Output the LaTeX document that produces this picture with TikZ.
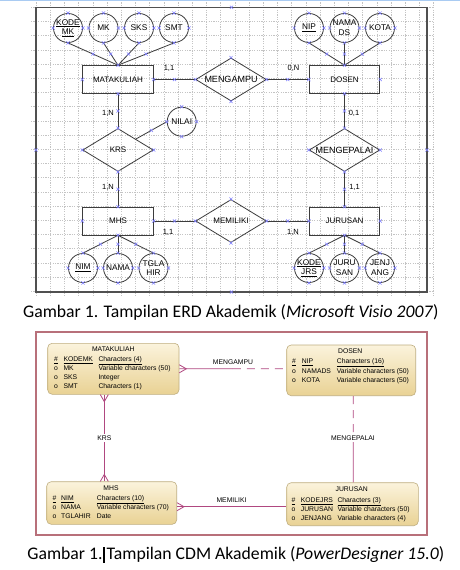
\documentclass[tikz,border=0pt]{standalone}
\usepackage{fontspec}
\setmainfont{Liberation Sans}
\newfontfamily\capfont{Carlito}
\usetikzlibrary{shapes.geometric,calc}
\definecolor{erdline}{HTML}{3C3C3C}
\definecolor{gridc}{HTML}{C4C4C4}
\definecolor{cpblue}{HTML}{7F7FFF}
\definecolor{cdmframe}{HTML}{B8707A}
\definecolor{cdmline}{HTML}{B04880}
\definecolor{boxtop}{HTML}{FBF3DC}
\definecolor{boxbot}{HTML}{E9D294}
\definecolor{boxdraw}{HTML}{BFAE80}
\definecolor{selblue}{HTML}{A9CBF2}
\newcommand\cpmark[1]{\draw[cpm] #1 +(-1.6,-1.6) -- +(1.6,1.6) #1 +(-1.6,1.6) -- +(1.6,-1.6);}
\newcommand\crowh[2]{\draw[cdmrel] ($(#1)+(0,-4)$) -- ($(#1)+(#2*7,0)$) -- ($(#1)+(0,4)$);}
\newcommand\crowv[2]{\draw[cdmrel] ($(#1)+(-4,0)$) -- ($(#1)+(0,#2*7)$) -- ($(#1)+(4,0)$);}
\newcommand\crow[8]{%
  \node[cell] (#1m) at (#3,#2) {#6};
  \node[cell] (#1n) at (#4,#2) {#7};
  \node[cell] (#1t) at (#5,#2) {#8};}
\newcommand\txtcursor{\hspace{0.6pt}\rule[-3.2pt]{1.4pt}{15.5pt}\hspace{2.2pt}}
\begin{document}
\begin{tikzpicture}[x=1pt,y=-1pt,
  gridline/.style={draw=gridc, line width=0.45pt, dash pattern=on 1.2pt off 1.2pt},
  erd/.style={draw=erdline, line width=0.8pt},
  ent/.style={rectangle, draw=erdline, line width=0.8pt, minimum width=70.6pt, minimum height=27.8pt, inner sep=0pt, font=\fontsize{8}{9.6}\selectfont},
  rel/.style={diamond, draw=erdline, line width=0.8pt, minimum width=70.6pt, minimum height=43pt, inner sep=0pt, shape aspect=1.65, font=\fontsize{8}{9.6}\selectfont},
  attr/.style={circle, draw=erdline, line width=0.8pt, minimum size=29pt, inner sep=0pt},
  attrtxt/.style={font=\fontsize{8.3}{9.7}\selectfont, align=center, inner sep=0pt},
  card/.style={font=\fontsize{7.5}{9}\selectfont, inner sep=0pt},
  cpm/.style={draw=cpblue, line width=0.5pt},
  cdm/.style={rectangle, rounded corners=4.5pt, draw=boxdraw, line width=0.6pt, top color=boxtop, bottom color=boxbot, inner sep=0pt},
  ttl/.style={font=\fontsize{6.8}{8}\selectfont, inner sep=0pt},
  cell/.style={font=\fontsize{6.8}{8}\selectfont, inner sep=0pt, anchor=west, text height=5pt, text depth=1.4pt},
  cdmrel/.style={draw=cdmline, line width=0.8pt},
  clabel/.style={font=\fontsize{6.8}{8}\selectfont, inner sep=1.2pt},
  caption/.style={font=\capfont\fontsize{17.7}{20}\selectfont, inner sep=0pt, anchor=base}
]
\useasboundingbox (0,0) rectangle (460,570);
\fill[white] (0,0) rectangle (460,570);
% ---------- top panel: grid and frame ----------
\begin{scope}
  \clip (31,1.5) rectangle (434,297);
  \foreach \i in {0,...,28} \draw[gridline] ({36+14.2*\i},0) -- ({36+14.2*\i},297);
  \foreach \j in {0,...,20} \draw[gridline] (31,{7.3+14.2*\j}) -- (434,{7.3+14.2*\j});
\end{scope}
\draw[selblue, line width=1.2pt] (0,0.6) -- (460,0.6);
\draw[draw=erdline!90, line width=1.1pt] (36,7.3) rectangle (427,292);
% ---------- entities ----------
\node[ent] (matakuliah) at (118,79.5) {MATAKULIAH};
\node[ent] (dosen) at (344.5,79.5) {DOSEN};
\node[ent] (mhs) at (118,221) {MHS};
\node[ent] (jurusan) at (344.5,221) {JURUSAN};
% ---------- relationships ----------
\node[rel, font=\fontsize{9}{10}\selectfont] (mengampu) at (231,79.5) {MENGAMPU};
\node[rel] (krs) at (118,150) {KRS};
\node[rel, font=\fontsize{9}{10}\selectfont] (mengepalai) at (344.5,150) {MENGEPALAI};
\node[rel] (memiliki) at (231,221) {MEMILIKI};
% ---------- attributes ----------
\node[attr, label={[attrtxt,name=kodemkt]center:{\underline{KODE}\\\underline{MK}}}] (kodemk) at (68,28) {};
\node[attr, label={[attrtxt,name=mkt]center:MK}] (mk) at (103.5,28) {};
\node[attr, label={[attrtxt,name=skst]center:SKS}] (sks) at (139,28) {};
\node[attr, label={[attrtxt,name=smtt]center:SMT}] (smt) at (174,28) {};
\node[attr, label={[attrtxt,name=nipt]center:\underline{NIP}}] (nip) at (309,28) {};
\node[attr, label={[attrtxt,name=namadst]center:{NAMA\\DS}}] (namads) at (344.5,28) {};
\node[attr, label={[attrtxt,name=kotat]center:KOTA}] (kota) at (380,28) {};
\node[attr, label={[attrtxt,name=nilait]center:NILAI}] (nilai) at (181.7,121.7) {};
\node[attr, label={[attrtxt,name=nimt]center:\underline{NIM}}] (nim) at (83,268) {};
\node[attr, label={[attrtxt,name=namat]center:NAMA}] (nama) at (118,268) {};
\node[attr, label={[attrtxt,name=tglahirt]center:{TGLA\\HIR}}] (tglahir) at (153.5,268) {};
\node[attr, label={[attrtxt,name=kodejrst]center:{\underline{KODE}\\\underline{JRS}}}] (kodejrs) at (309,268) {};
\node[attr, label={[attrtxt,name=jurusanat]center:{JURU\\SAN}}] (jurusana) at (344.5,268) {};
\node[attr, label={[attrtxt,name=jenjangt]center:{JENJ\\ANG}}] (jenjang) at (380,268) {};
% ---------- connectors ----------
\foreach \a in {kodemk,mk,sks,smt} \draw[erd] (\a.south) -- (matakuliah.north);
\foreach \a in {nip,namads,kota} \draw[erd] (\a.south) -- (dosen.north);
\foreach \a in {nim,nama,tglahir} \draw[erd] (mhs.south) -- (\a.north);
\foreach \a in {kodejrs,jurusana,jenjang} \draw[erd] (jurusan.south) -- (\a.north);
\draw[erd] (matakuliah.east) -- (mengampu.west);
\draw[erd] (mengampu.east) -- (dosen.west);
\draw[erd] (matakuliah.south) -- (krs.north);
\draw[erd] (krs.south) -- (mhs.north);
\draw[erd] (krs.north east) -- (nilai.west);
\draw[erd] (dosen.south) -- (mengepalai.north);
\draw[erd] (mengepalai.south) -- (jurusan.north);
\draw[erd] (mhs.east) -- (memiliki.west);
\draw[erd] (memiliki.east) -- (jurusan.west);
% ---------- cardinalities ----------
\node[card] (c1) at (169,68) {1,1};
\node[card] (c2) at (293.5,68) {0,N};
\node[card] (c3) at (108,113) {1,N};
\node[card] (c4) at (354,113) {0,1};
\node[card] (c5) at (108,187) {1,N};
\node[card] (c6) at (354.5,187) {1,1};
\node[card] (c7) at (168,232) {1,1};
\node[card] (c8) at (293,232) {1,N};
% ---------- connection point marks ----------
\foreach \n in {kodemk,mk,sks,smt,nip,namads,kota,nilai,nim,nama,tglahir,kodejrs,jurusana,jenjang,mengampu,krs,mengepalai,memiliki,matakuliah,dosen,mhs,jurusan}
  \foreach \p in {north,south,east,west} {\cpmark{(\n.\p)}}
\foreach \n/\e in {kodemk/matakuliah,mk/matakuliah,sks/matakuliah,smt/matakuliah,nip/dosen,namads/dosen,kota/dosen}
  {\cpmark{($(\n.south)!0.5!(\e.north)$)}}
\foreach \n/\e in {nim/mhs,nama/mhs,tglahir/mhs,kodejrs/jurusan,jurusana/jurusan,jenjang/jurusan}
  {\cpmark{($(\n.north)!0.5!(\e.south)$)}}
\cpmark{($(matakuliah.east)!0.5!(mengampu.west)$)}
\cpmark{($(mengampu.east)!0.5!(dosen.west)$)}
\cpmark{($(matakuliah.south)!0.5!(krs.north)$)}
\cpmark{($(krs.south)!0.5!(mhs.north)$)}
\cpmark{($(krs.north east)!0.5!(nilai.west)$)}
\cpmark{($(dosen.south)!0.5!(mengepalai.north)$)}
\cpmark{($(mengepalai.south)!0.5!(jurusan.north)$)}
\cpmark{($(mhs.east)!0.5!(memiliki.west)$)}
\cpmark{($(memiliki.east)!0.5!(jurusan.west)$)}
\cpmark{(36,150)} \cpmark{(427,150)} \cpmark{(231.5,7.3)} \cpmark{(231.5,292)}
% ---------- caption 1 ----------
\node[caption] (cap1) at (230.8,317.7) {Gambar 1. Tampilan ERD Akademik (\textit{Microsoft Visio 2007})};
% ---------- bottom panel ----------
\draw[draw=cdmframe, line width=1.1pt] (36,332) rectangle (427,535);
\node[cdm, minimum width=131.3pt, minimum height=51pt] (cmk) at (113.35,368.8) {};
\node[cdm, minimum width=129pt, minimum height=50.7pt] (cdos) at (351.2,370.35) {};
\node[cdm, minimum width=130pt, minimum height=42.6pt] (cmhs) at (111.7,503) {};
\node[cdm, minimum width=131.6pt, minimum height=43pt] (cjur) at (352.5,504.2) {};
\node[ttl] (cmkT) at (113.3,349) {MATAKULIAH};
\node[ttl] (cdosT) at (350.3,351) {DOSEN};
\node[ttl] (cmhsT) at (111,487.7) {MHS};
\node[ttl] (cjurT) at (351.7,489) {JURUSAN};
\crow{mka}{360}{54}{63.3}{98.3}{\underline{\#}}{\underline{KODEMK}}{\underline{Characters (4)}}
\crow{mkb}{369}{54}{63.3}{98.3}{o}{MK}{Variable characters (50)}
\crow{mkc}{378}{54}{63.3}{98.3}{o}{SKS}{Integer}
\crow{mkd}{387}{54}{63.3}{98.3}{o}{SMT}{Characters (1)}
\crow{dsa}{362}{292}{301.7}{336.7}{\underline{\#}}{\underline{NIP}}{\underline{Characters (16)}}
\crow{dsb}{371.5}{292}{301.7}{336.7}{o}{NAMADS}{Variable characters (50)}
\crow{dsc}{381}{292}{301.7}{336.7}{o}{KOTA}{Variable characters (50)}
\crow{mha}{499}{52.5}{61}{96.7}{\underline{\#}}{\underline{NIM}}{\underline{Characters (10)}}
\crow{mhb}{507.7}{52.5}{61}{96.7}{o}{NAMA}{Variable characters (70)}
\crow{mhc}{516.7}{52.5}{61}{96.7}{o}{TGLAHIR}{Date}
\crow{jra}{500.7}{291.5}{300.7}{337.3}{\underline{\#}}{\underline{KODEJRS}}{\underline{Characters (3)}}
\crow{jrb}{509.7}{291.5}{300.7}{337.3}{o}{JURUSAN}{Variable characters (50)}
\crow{jrc}{518.7}{291.5}{300.7}{337.3}{o}{JENJANG}{Variable characters (4)}
% relationships
\coordinate (mgA) at (cmk.east);
\coordinate (mgB) at (cmk.east -| cdos.west);
\coordinate (mgM) at ($(mgA)!0.5!(mgB)$);
\draw[cdmrel] (mgA) -- (mgM);
\draw[cdmrel, dash pattern=on 8pt off 6pt] (mgM) -- (mgB);
\crowh{mgA}{1}
\coordinate (krsA) at (104.3,0 |- cmk.south);
\coordinate (krsB) at (104.3,0 |- cmhs.north);
\draw[cdmrel] (krsA) -- (krsB);
\crowv{krsA}{1}
\crowv{krsB}{-1}
\coordinate (mpA) at (353.3,0 |- cdos.south);
\coordinate (mpB) at (353.3,0 |- cjur.north);
\coordinate (mpM) at ($(mpA)!0.5!(mpB)$);
\draw[cdmrel, dash pattern=on 8pt off 6pt] (mpA) -- (mpM);
\draw[cdmrel] (mpM) -- (mpB);
\coordinate (mmA) at (cmhs.east |- 0,506.7);
\coordinate (mmB) at (cjur.west |- 0,506.7);
\draw[cdmrel] (mmA) -- (mmB);
\crowh{mmA}{1}
\node[clabel] (lmengampu) at (233,362.3) {MENGAMPU};
\node[clabel, fill=white] (lkrs) at (104.3,438) {KRS};
\node[clabel, fill=white] (lmengepalai) at (353,438) {MENGEPALAI};
\node[clabel] (lmemiliki) at (231.5,500.5) {MEMILIKI};
% ---------- caption 2 ----------
\node[caption] (cap2) at (235.8,559.3) {Gambar 1.\txtcursor Tampilan CDM Akademik (\textit{PowerDesigner 15.0})};
\end{tikzpicture}
\end{document}
